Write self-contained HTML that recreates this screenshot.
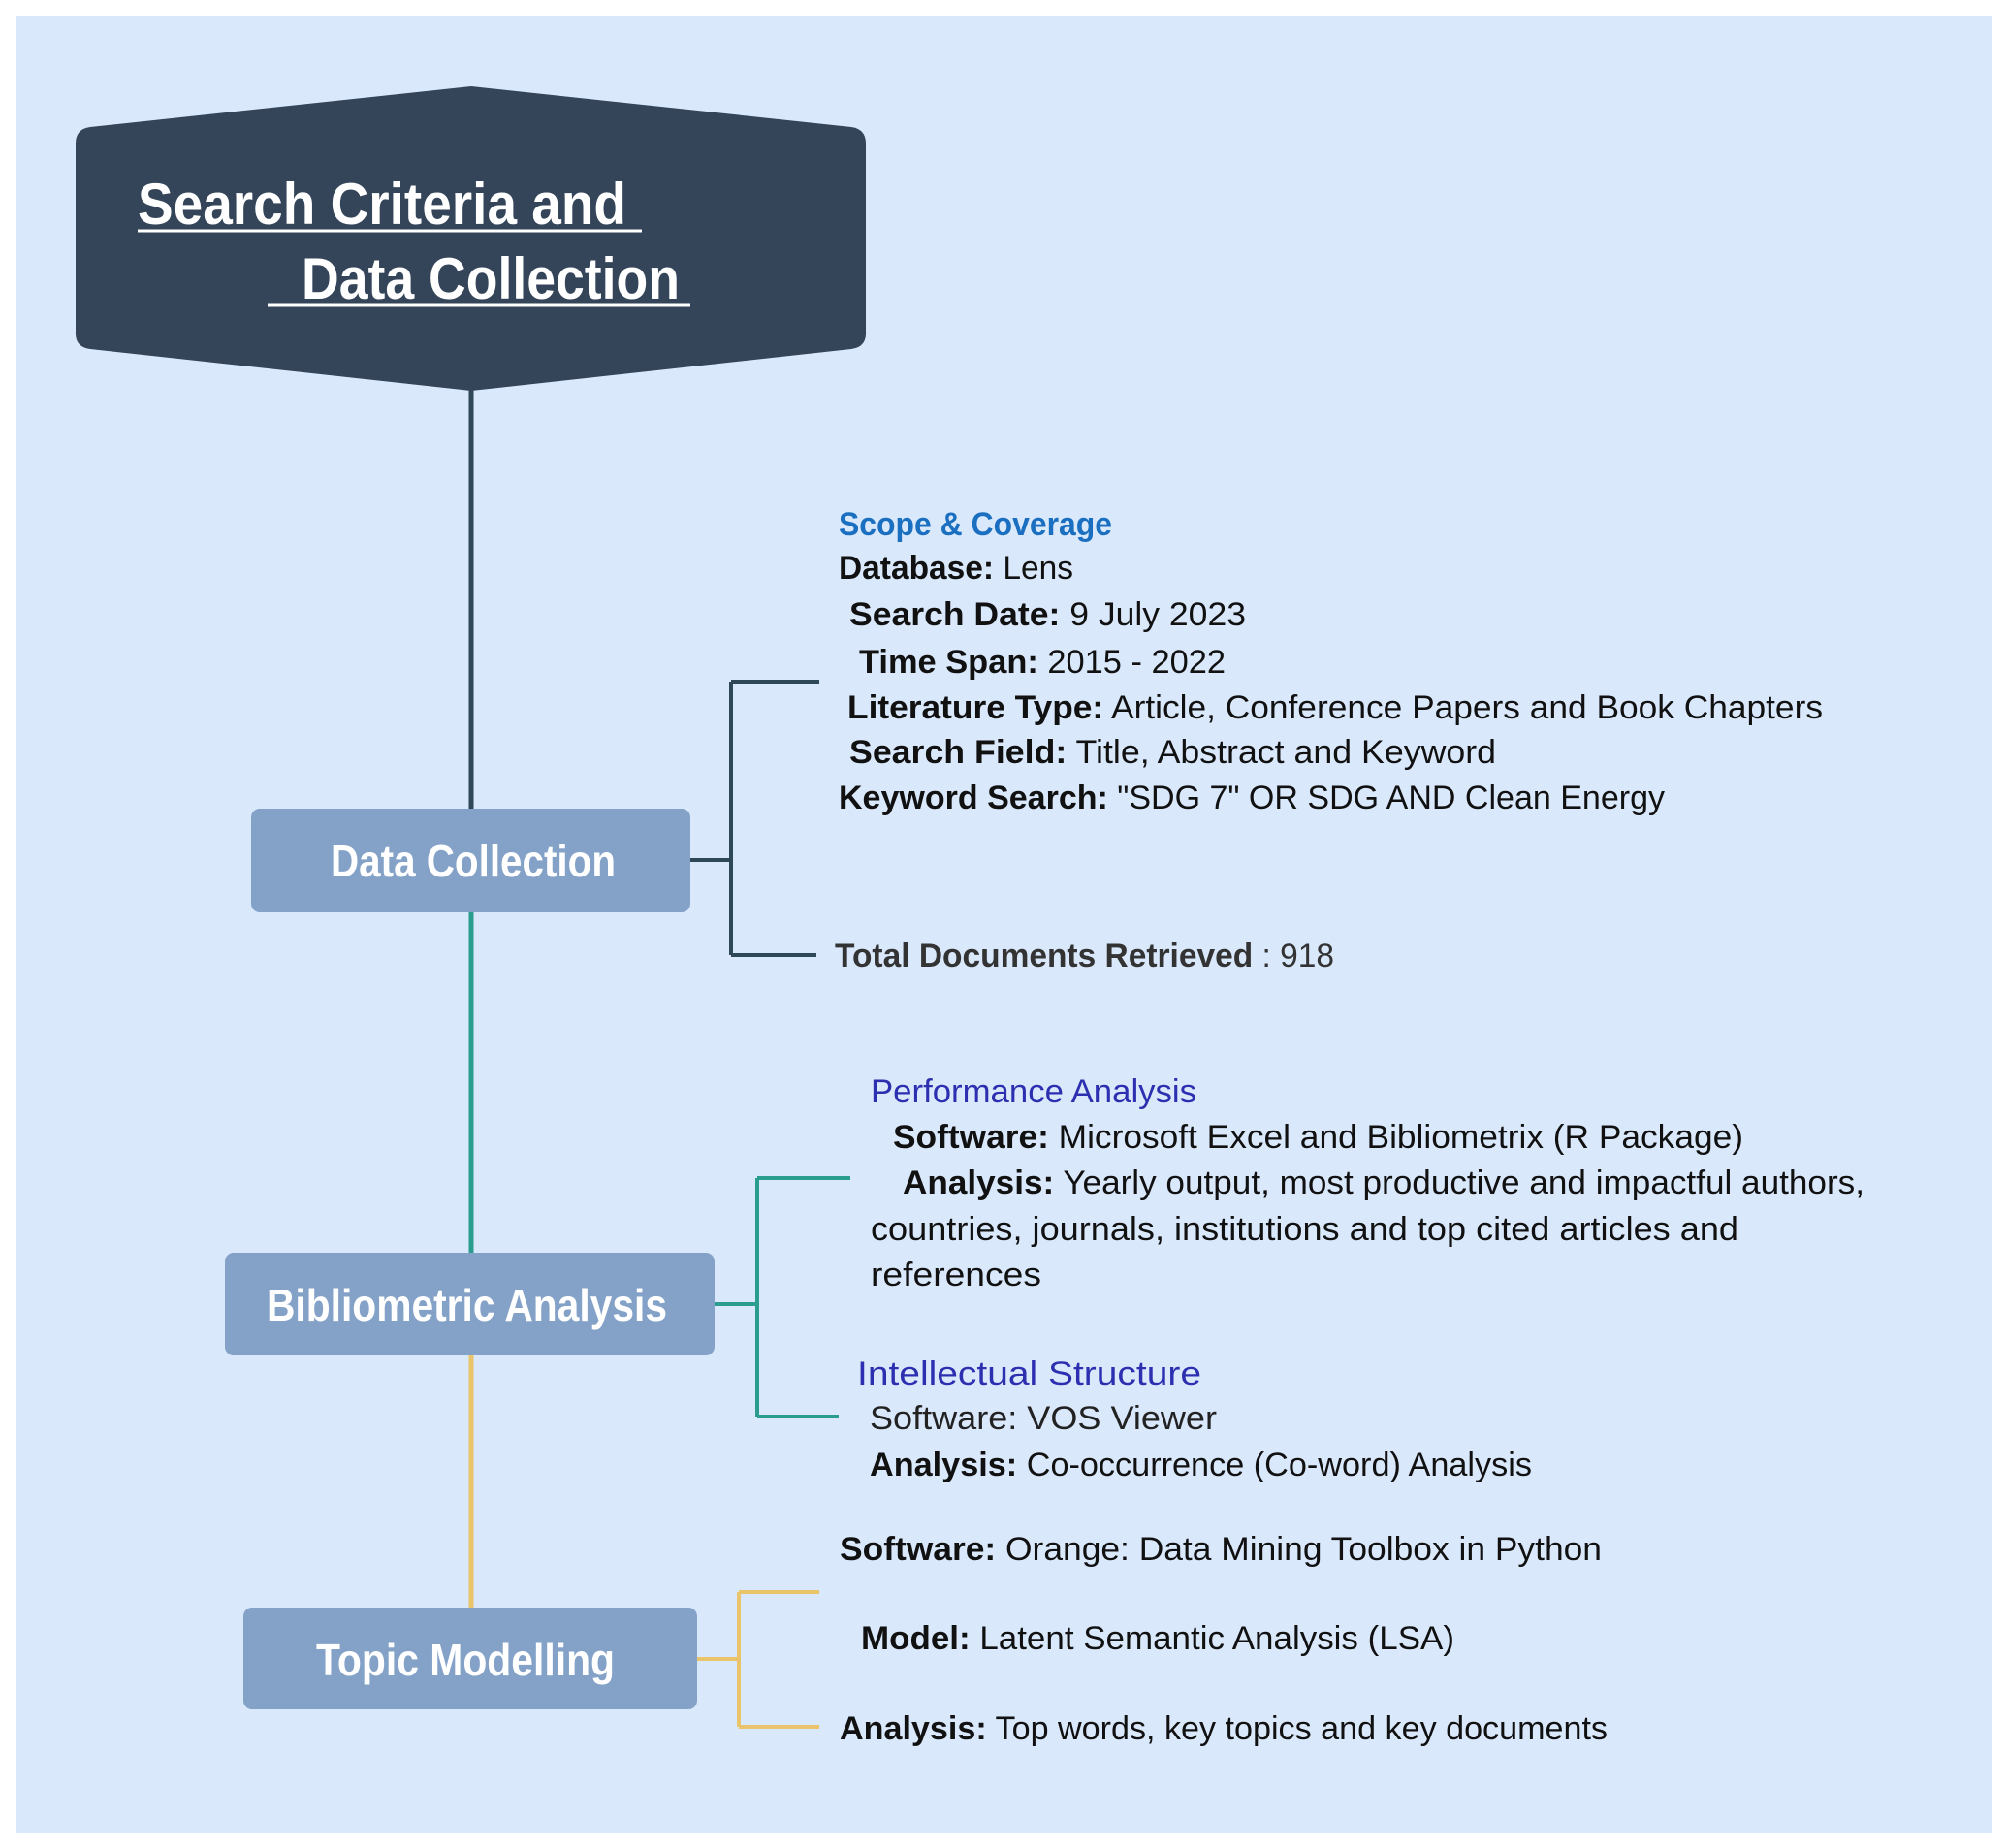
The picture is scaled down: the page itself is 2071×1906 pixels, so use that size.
<!DOCTYPE html>
<html><head><meta charset="utf-8"><style>
html,body{margin:0;padding:0;background:#fff;}
svg{display:block;}
text{font-family:"Liberation Sans",sans-serif;}
</style></head><body>
<svg width="2071" height="1906" viewBox="0 0 2071 1906" xmlns="http://www.w3.org/2000/svg">
<rect x="0" y="0" width="2071" height="1906" fill="#ffffff"/>
<rect x="16" y="16" width="2039" height="1875" fill="#dae8fb"/>
<line x1="486" y1="400" x2="486" y2="836" stroke="#2f4858" stroke-width="5"/>
<line x1="486" y1="940" x2="486" y2="1294" stroke="#2a9d8f" stroke-width="5"/>
<line x1="486" y1="1396" x2="486" y2="1660" stroke="#e9c46a" stroke-width="5"/>
<path d="M712 887 H754 M754 703 V985 M754 703 H845 M754 985 H842" stroke="#2f4858" stroke-width="4" fill="none"/>
<path d="M737 1345 H781 M781 1215 V1461 M781 1215 H877 M781 1461 H865" stroke="#2a9d8f" stroke-width="4" fill="none"/>
<path d="M719 1711 H762 M762 1642 V1781 M762 1642 H845 M762 1781 H845" stroke="#e9c46a" stroke-width="4" fill="none"/>
<path d="M486 89 L878 131 Q893 133 893 148 L893 344 Q893 358 878 360 L486 403 L93 360 Q78 358 78 344 L78 148 Q78 133 93 131 Z" fill="#344459"/>
<text x="142" y="231" font-size="60" font-weight="bold" fill="#fff" textLength="504" lengthAdjust="spacingAndGlyphs">Search Criteria and</text>
<line x1="142" y1="238" x2="662" y2="238" stroke="#fff" stroke-width="3"/>
<text x="311" y="308" font-size="60" font-weight="bold" fill="#fff" textLength="390" lengthAdjust="spacingAndGlyphs">Data Collection</text>
<line x1="276" y1="315" x2="712" y2="315" stroke="#fff" stroke-width="3"/>
<rect x="259" y="834" width="453" height="107" rx="9" fill="#84a2c8"/>
<text x="341" y="904" font-size="46" fill="#fff" font-weight="bold" textLength="294" lengthAdjust="spacingAndGlyphs">Data Collection</text>
<rect x="232" y="1292" width="505" height="106" rx="9" fill="#84a2c8"/>
<text x="275" y="1362" font-size="46" fill="#fff" font-weight="bold" textLength="413" lengthAdjust="spacingAndGlyphs">Bibliometric Analysis</text>
<rect x="251" y="1658" width="468" height="105" rx="9" fill="#84a2c8"/>
<text x="326" y="1728" font-size="46" fill="#fff" font-weight="bold" textLength="308" lengthAdjust="spacingAndGlyphs">Topic Modelling</text>
<g font-size="34" fill="#111">
<text x="865" y="552" fill="#1a6fc0" font-weight="bold" textLength="282" lengthAdjust="spacingAndGlyphs">Scope &amp; Coverage</text>
<text x="865" y="597" textLength="242" lengthAdjust="spacingAndGlyphs"><tspan font-weight="bold">Database:</tspan> Lens</text>
<text x="876" y="645" textLength="409" lengthAdjust="spacingAndGlyphs"><tspan font-weight="bold">Search Date:</tspan> 9 July 2023</text>
<text x="886" y="694" textLength="378" lengthAdjust="spacingAndGlyphs"><tspan font-weight="bold">Time Span:</tspan> 2015 - 2022</text>
<text x="874" y="741" textLength="1006" lengthAdjust="spacingAndGlyphs"><tspan font-weight="bold">Literature Type:</tspan> Article, Conference Papers and Book Chapters</text>
<text x="876" y="787" textLength="667" lengthAdjust="spacingAndGlyphs"><tspan font-weight="bold">Search Field:</tspan> Title, Abstract and Keyword</text>
<text x="865" y="834" textLength="852" lengthAdjust="spacingAndGlyphs"><tspan font-weight="bold">Keyword Search:</tspan> "SDG 7" OR SDG AND Clean Energy</text>
<text x="861" y="997" fill="#333" textLength="515" lengthAdjust="spacingAndGlyphs"><tspan font-weight="bold">Total Documents Retrieved</tspan> : 918</text>
<text x="898" y="1137" fill="#2b2fb0" textLength="336" lengthAdjust="spacingAndGlyphs">Performance Analysis</text>
<text x="921" y="1184" textLength="877" lengthAdjust="spacingAndGlyphs"><tspan font-weight="bold">Software:</tspan> Microsoft Excel and Bibliometrix (R Package)</text>
<text x="931" y="1231" textLength="992" lengthAdjust="spacingAndGlyphs"><tspan font-weight="bold">Analysis:</tspan> Yearly output, most productive and impactful authors,</text>
<text x="898" y="1279" textLength="895" lengthAdjust="spacingAndGlyphs">countries, journals, institutions and top cited articles and</text>
<text x="898" y="1326" textLength="176" lengthAdjust="spacingAndGlyphs">references</text>
<text x="884" y="1428" fill="#2b2fb0" textLength="355" lengthAdjust="spacingAndGlyphs">Intellectual Structure</text>
<text x="897" y="1474" fill="#222" textLength="358" lengthAdjust="spacingAndGlyphs">Software: VOS Viewer</text>
<text x="897" y="1522" textLength="683" lengthAdjust="spacingAndGlyphs"><tspan font-weight="bold">Analysis:</tspan> Co-occurrence  (Co-word) Analysis</text>
<text x="866" y="1609" textLength="786" lengthAdjust="spacingAndGlyphs"><tspan font-weight="bold">Software:</tspan> Orange: Data Mining Toolbox in  Python</text>
<text x="888" y="1701" textLength="612" lengthAdjust="spacingAndGlyphs"><tspan font-weight="bold">Model:</tspan> Latent Semantic Analysis (LSA)</text>
<text x="866" y="1794" textLength="792" lengthAdjust="spacingAndGlyphs"><tspan font-weight="bold">Analysis:</tspan> Top words, key topics and key documents</text>
</g>
</svg>
</body></html>
